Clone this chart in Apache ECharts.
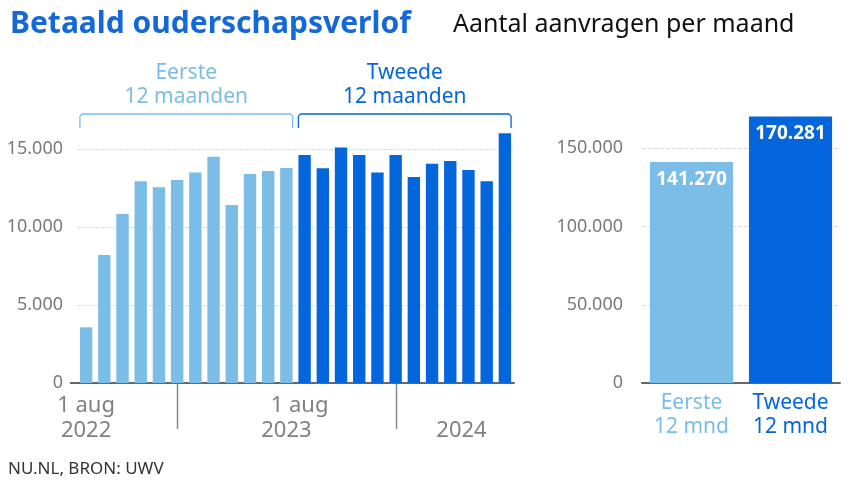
<!DOCTYPE html>
<html>
<head>
<meta charset="utf-8">
<script src="https://cdn.jsdelivr.net/npm/echarts@6/dist/echarts.min.js"></script>
<style>
  html, body { margin: 0; padding: 0; background: #fff; }
  #chart { width: 854px; height: 480px; }
</style>
</head>
<body>
<div id="chart"></div>
<script>
  // maanden aug 2022 t/m jul 2024
  const months = ['2022-08', '2022-09', '2022-10', '2022-11', '2022-12', '2023-01',
    '2023-02', '2023-03', '2023-04', '2023-05', '2023-06', '2023-07',
    '2023-08', '2023-09', '2023-10', '2023-11', '2023-12', '2024-01',
    '2024-02', '2024-03', '2024-04', '2024-05', '2024-06', '2024-07']
  const firstYear = [3570, 8200, 10830, 12930, 12550, 13010, 13490, 14510, 11410, 13400, 13590, 13780]
  const secondYear = [14620, 13760, 15090, 14610, 13490, 14620, 13210, 14060, 14230, 13650, 12930, 16010]
  const totalNames = ['Eerste\n12 mnd', 'Tweede\n12 mnd']
  const totals = [141270, 170281]
  // labels onder de x-as
  const tickLabels = { '2022-08': '1 aug\n2022', '2023-07': '\n2023', '2023-08': '1 aug', '2024-05': '\n2024' }
  const shortTicks = ['2022-08', '2023-08']
  const longTicks = ['2023-01', '2024-01']

  const light = '#7bbde6'
  const dark = '#0466dc'
  const font = 'Noto Sans'
  const fmt = v => String(v).replace(/\B(?=(\d{3})+(?!\d))/g, '.')

  let myChart = echarts.init(document.getElementById('chart'))
  let monthly = firstYear.concat(secondYear)

  let option = {
    animation: false,
    textStyle: { fontFamily: font },
    title: [
      {
        text: 'Betaald ouderschapsverlof',
        left: 5,
        top: 4,
        textStyle: { fontFamily: font, fontSize: 30, fontWeight: 'bold', color: '#1468d8' }
      },
      {
        text: 'Aantal aanvragen per maand',
        left: 448,
        top: 7,
        textStyle: { fontFamily: font, fontSize: 25, fontWeight: 'normal', color: '#111' }
      },
      {
        text: 'NU.NL, BRON: UWV',
        left: 3,
        top: 456,
        textStyle: { fontFamily: font, fontSize: 17, fontWeight: 'normal', color: '#333' }
      }
    ],
    grid: [
      { left: 77, right: 340, top: 71, bottom: 97 },
      { left: 642, right: 14, top: 70, bottom: 97 }
    ],
    xAxis: [
      {
        type: 'category',
        gridIndex: 0,
        data: months,
        axisLine: { lineStyle: { color: '#666', width: 2 } },
        axisTick: {
          alignWithLabel: true,
          interval: (i, v) => shortTicks.includes(v),
          length: 5,
          lineStyle: { color: '#777', width: 1.5 }
        },
        axisLabel: {
          interval: (i, v) => v in tickLabels,
          formatter: v => {
            let t = tickLabels[v] || ''
            if (v === '2024-05') return '{s|' + t + '}'
            if (v === '2023-08') return '{m|' + t + '}'
            return t
          },
          rich: {
            s: { color: '#808080', fontSize: 22, lineHeight: 25, padding: [0, 14, 0, 0] },
            m: { color: '#808080', fontSize: 22, lineHeight: 25, padding: [0, 10, 0, 0] }
          },
          color: '#808080',
          fontSize: 22,
          lineHeight: 25,
          margin: 10
        }
      },
      {
        type: 'category',
        gridIndex: 1,
        data: totalNames,
        axisLine: { lineStyle: { color: '#666', width: 2 } },
        axisTick: { show: false },
        axisLabel: {
          interval: 0,
          color: (v, i) => i === 0 ? light : dark,
          fontSize: 21,
          lineHeight: 24,
          margin: 8
        }
      }
    ],
    yAxis: [
      {
        type: 'value',
        gridIndex: 0,
        min: 0,
        max: 20000,
        interval: 5000,
        axisLine: { show: false },
        axisTick: { show: false },
        axisLabel: { formatter: fmt, color: '#7a7a7a', fontSize: 18, margin: 14, showMaxLabel: false },
        splitLine: { showMaxLine: false, lineStyle: { type: 'dashed', color: '#dcdcdc' } }
      },
      {
        type: 'value',
        gridIndex: 1,
        min: 0,
        max: 200000,
        interval: 50000,
        axisLine: { show: false },
        axisTick: { show: false },
        axisLabel: { formatter: fmt, color: '#7a7a7a', fontSize: 18, margin: 19, showMaxLabel: false },
        splitLine: { showMaxLine: false, lineStyle: { type: 'dashed', color: '#dcdcdc' } }
      }
    ],
    series: [
      {
        name: 'per maand',
        type: 'bar',
        xAxisIndex: 0,
        yAxisIndex: 0,
        barCategoryGap: '32%',
        data: monthly,
        itemStyle: {
          color: p => p.dataIndex < firstYear.length ? light : dark
        }
      },
      {
        name: 'totaal',
        type: 'bar',
        xAxisIndex: 1,
        yAxisIndex: 1,
        barCategoryGap: '16%',
        data: totals,
        itemStyle: {
          color: p => p.dataIndex === 0 ? light : dark
        },
        label: {
          show: true,
          position: 'insideTop',
          distance: 8,
          formatter: p => fmt(p.value),
          color: '#fff',
          fontSize: 19,
          fontWeight: 'bold'
        }
      }
    ]
  }
  myChart.setOption(option)

  // accolades boven de twee periodes en lange jaarstreepjes
  let px = i => myChart.convertToPixel({ xAxisIndex: 0 }, i)
  let base = myChart.convertToPixel({ yAxisIndex: 0 }, 0)
  let pitch = px(1) - px(0)
  let half = pitch * 0.68 / 2
  let brackets = [
    { from: 0, to: firstYear.length - 1, text: 'Eerste\n12 maanden', color: light },
    { from: firstYear.length, to: monthly.length - 1, text: 'Tweede\n12 maanden', color: dark }
  ]
  let graphic = []
  brackets.forEach(b => {
    let x1 = px(b.from) - half
    let x2 = px(b.to) + half
    let y1 = 114
    let y2 = 128
    graphic.push({
      type: 'polyline',
      shape: {
        points: [[x1, y2], [x1, y1 + 2.5], [x1 + 1, y1 + 1], [x1 + 2.5, y1],
          [x2 - 2.5, y1], [x2 - 1, y1 + 1], [x2, y1 + 2.5], [x2, y2]]
      },
      style: { fill: null, stroke: b.color, lineWidth: 1.3 }
    })
    graphic.push({
      type: 'text',
      x: (x1 + x2) / 2,
      y: 61,
      style: {
        text: b.text,
        fill: b.color,
        font: `21px "${font}"`,
        lineHeight: 24,
        align: 'center',
        verticalAlign: 'top'
      }
    })
  })
  longTicks.forEach(m => {
    let x = Math.round(px(months.indexOf(m))) + 0.5
    graphic.push({
      type: 'line',
      shape: { x1: x, y1: base, x2: x, y2: base + 46 },
      style: { stroke: '#888', lineWidth: 1.5 }
    })
  })
  // as iets naar links doortrekken, zoals in het origineel
  let gridLeft = px(0) - pitch / 2
  graphic.push({
    type: 'line',
    shape: { x1: gridLeft - 7, y1: base, x2: gridLeft, y2: base },
    style: { stroke: '#666', lineWidth: 2 }
  })
  myChart.setOption({ graphic: graphic })
</script>
</body>
</html>
